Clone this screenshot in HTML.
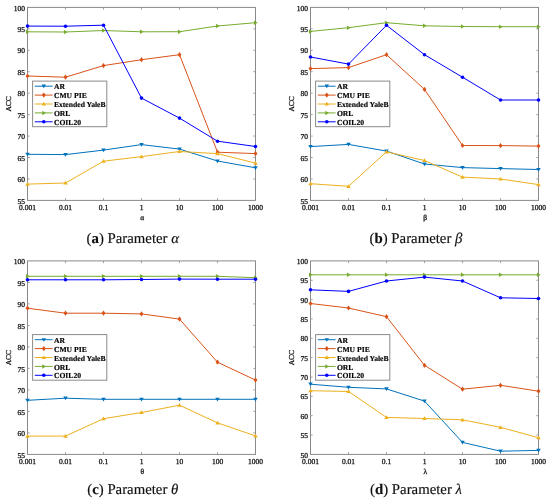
<!DOCTYPE html>
<html><head><meta charset="utf-8"><title>Parameter sensitivity</title>
<style>
html,body{margin:0;padding:0;background:#fff;}
svg{display:block;text-rendering:geometricPrecision;}
.tk{font-family:"Liberation Serif",serif;font-size:7.5px;fill:#1a1a1a;stroke:#1a1a1a;stroke-width:0.3px;}
.ax{font-style:italic;}
.lg{font-family:"Liberation Serif",serif;font-size:7.65px;font-weight:bold;fill:#000;stroke:#000;stroke-width:0.15px;}
.cap{font-family:"Liberation Serif","DejaVu Serif",serif;font-size:14.8px;fill:#111;stroke:#111;stroke-width:0.15px;}
</style></head>
<body>
<svg width="550" height="501" viewBox="0 0 550 501">
<rect width="550" height="501" fill="#fff"/>
<text x="24.90" y="203.50" text-anchor="end" class="tk">55</text>
<text x="24.90" y="182.06" text-anchor="end" class="tk">60</text>
<text x="24.90" y="160.61" text-anchor="end" class="tk">65</text>
<text x="24.90" y="139.17" text-anchor="end" class="tk">70</text>
<text x="24.90" y="117.72" text-anchor="end" class="tk">75</text>
<text x="24.90" y="96.28" text-anchor="end" class="tk">80</text>
<text x="24.90" y="74.83" text-anchor="end" class="tk">85</text>
<text x="24.90" y="53.39" text-anchor="end" class="tk">90</text>
<text x="24.90" y="31.94" text-anchor="end" class="tk">95</text>
<text x="24.90" y="10.50" text-anchor="end" class="tk">100</text>
<text x="27.50" y="210.30" text-anchor="middle" class="tk">0.001</text>
<text x="65.50" y="210.30" text-anchor="middle" class="tk">0.01</text>
<text x="103.50" y="210.30" text-anchor="middle" class="tk">0.1</text>
<text x="141.50" y="210.30" text-anchor="middle" class="tk">1</text>
<text x="179.50" y="210.30" text-anchor="middle" class="tk">10</text>
<text x="217.50" y="210.30" text-anchor="middle" class="tk">100</text>
<text x="255.50" y="210.30" text-anchor="middle" class="tk">1000</text>
<path d="M27.5,178.96h2.2M255.5,178.96h-2.2M27.5,157.51h2.2M255.5,157.51h-2.2M27.5,136.07h2.2M255.5,136.07h-2.2M27.5,114.62h2.2M255.5,114.62h-2.2M27.5,93.18h2.2M255.5,93.18h-2.2M27.5,71.73h2.2M255.5,71.73h-2.2M27.5,50.29h2.2M255.5,50.29h-2.2M27.5,28.84h2.2M255.5,28.84h-2.2M65.50,200.4v-2.2M65.50,7.4v2.2M103.50,200.4v-2.2M103.50,7.4v2.2M141.50,200.4v-2.2M141.50,7.4v2.2M179.50,200.4v-2.2M179.50,7.4v2.2M217.50,200.4v-2.2M217.50,7.4v2.2" stroke="#8a8a8a" stroke-width="0.8" fill="none"/>
<rect x="27.5" y="7.4" width="228.0" height="193.0" fill="none" stroke="#8a8a8a" stroke-width="1"/>
<polyline points="27.50,154.30 65.50,154.60 103.50,150.10 141.50,144.60 179.50,149.10 217.50,161.00 255.50,167.80" fill="none" stroke="#0072BD" stroke-width="1.0" stroke-linejoin="round"/>
<path d="M25.25,152.73H29.75L27.50,156.44Z" fill="#0072BD"/>
<path d="M63.25,153.03H67.75L65.50,156.74Z" fill="#0072BD"/>
<path d="M101.25,148.53H105.75L103.50,152.24Z" fill="#0072BD"/>
<path d="M139.25,143.03H143.75L141.50,146.74Z" fill="#0072BD"/>
<path d="M177.25,147.53H181.75L179.50,151.24Z" fill="#0072BD"/>
<path d="M215.25,159.43H219.75L217.50,163.14Z" fill="#0072BD"/>
<path d="M253.25,166.23H257.75L255.50,169.94Z" fill="#0072BD"/>
<polyline points="27.50,76.00 65.50,77.20 103.50,65.60 141.50,59.70 179.50,54.70 217.50,152.20 255.50,153.60" fill="none" stroke="#D95319" stroke-width="1.0" stroke-linejoin="round"/>
<path d="M27.50,73.41L29.41,76.00L27.50,78.59L25.59,76.00Z" fill="#D95319"/>
<path d="M65.50,74.61L67.41,77.20L65.50,79.79L63.59,77.20Z" fill="#D95319"/>
<path d="M103.50,63.01L105.41,65.60L103.50,68.19L101.59,65.60Z" fill="#D95319"/>
<path d="M141.50,57.11L143.41,59.70L141.50,62.29L139.59,59.70Z" fill="#D95319"/>
<path d="M179.50,52.11L181.41,54.70L179.50,57.29L177.59,54.70Z" fill="#D95319"/>
<path d="M217.50,149.61L219.41,152.20L217.50,154.79L215.59,152.20Z" fill="#D95319"/>
<path d="M255.50,151.01L257.41,153.60L255.50,156.19L253.59,153.60Z" fill="#D95319"/>
<polyline points="27.50,184.10 65.50,183.00 103.50,161.20 141.50,156.60 179.50,151.50 217.50,153.60 255.50,163.10" fill="none" stroke="#EDB120" stroke-width="1.0" stroke-linejoin="round"/>
<path d="M25.25,185.67H29.75L27.50,181.96Z" fill="#EDB120"/>
<path d="M63.25,184.57H67.75L65.50,180.86Z" fill="#EDB120"/>
<path d="M101.25,162.77H105.75L103.50,159.06Z" fill="#EDB120"/>
<path d="M139.25,158.17H143.75L141.50,154.46Z" fill="#EDB120"/>
<path d="M177.25,153.07H181.75L179.50,149.36Z" fill="#EDB120"/>
<path d="M215.25,155.17H219.75L217.50,151.46Z" fill="#EDB120"/>
<path d="M253.25,164.67H257.75L255.50,160.96Z" fill="#EDB120"/>
<polyline points="27.50,31.80 65.50,32.00 103.50,30.50 141.50,31.80 179.50,31.70 217.50,26.00 255.50,22.70" fill="none" stroke="#77AC30" stroke-width="1.0" stroke-linejoin="round"/>
<path d="M25.93,29.55V34.05L29.64,31.80Z" fill="#77AC30"/>
<path d="M63.92,29.75V34.25L67.64,32.00Z" fill="#77AC30"/>
<path d="M101.92,28.25V32.75L105.64,30.50Z" fill="#77AC30"/>
<path d="M139.93,29.55V34.05L143.64,31.80Z" fill="#77AC30"/>
<path d="M177.93,29.45V33.95L181.64,31.70Z" fill="#77AC30"/>
<path d="M215.93,23.75V28.25L219.64,26.00Z" fill="#77AC30"/>
<path d="M253.93,20.45V24.95L257.64,22.70Z" fill="#77AC30"/>
<polyline points="27.50,26.10 65.50,26.20 103.50,25.20 141.50,98.10 179.50,118.10 217.50,141.20 255.50,146.50" fill="none" stroke="#0000FF" stroke-width="1.0" stroke-linejoin="round"/>
<circle cx="27.50" cy="26.10" r="1.80" fill="#0000FF"/>
<circle cx="65.50" cy="26.20" r="1.80" fill="#0000FF"/>
<circle cx="103.50" cy="25.20" r="1.80" fill="#0000FF"/>
<circle cx="141.50" cy="98.10" r="1.80" fill="#0000FF"/>
<circle cx="179.50" cy="118.10" r="1.80" fill="#0000FF"/>
<circle cx="217.50" cy="141.20" r="1.80" fill="#0000FF"/>
<circle cx="255.50" cy="146.50" r="1.80" fill="#0000FF"/>
<rect x="32.6" y="81.1" width="74.2" height="45.6" fill="#fff" stroke="#8a8a8a" stroke-width="1"/>
<line x1="34.80" y1="86.20" x2="52.60" y2="86.20" stroke="#0072BD" stroke-width="1.0"/>
<path d="M41.55,84.62H46.05L43.80,88.34Z" fill="#0072BD"/>
<text x="53.90" y="89.30" class="lg">AR</text>
<line x1="34.80" y1="95.10" x2="52.60" y2="95.10" stroke="#D95319" stroke-width="1.0"/>
<path d="M43.80,92.51L45.71,95.10L43.80,97.69L41.89,95.10Z" fill="#D95319"/>
<text x="53.90" y="98.20" class="lg">CMU PIE</text>
<line x1="34.80" y1="104.00" x2="52.60" y2="104.00" stroke="#EDB120" stroke-width="1.0"/>
<path d="M41.55,105.57H46.05L43.80,101.86Z" fill="#EDB120"/>
<text x="53.90" y="107.10" class="lg">Extended YaleB</text>
<line x1="34.80" y1="112.90" x2="52.60" y2="112.90" stroke="#77AC30" stroke-width="1.0"/>
<path d="M42.22,110.65V115.15L45.94,112.90Z" fill="#77AC30"/>
<text x="53.90" y="116.00" class="lg">ORL</text>
<line x1="34.80" y1="121.80" x2="52.60" y2="121.80" stroke="#0000FF" stroke-width="1.0"/>
<circle cx="43.80" cy="121.80" r="1.80" fill="#0000FF"/>
<text x="53.90" y="124.90" class="lg">COIL20</text>
<text x="0" y="0" transform="translate(11.40,103.90) rotate(-90)" text-anchor="middle" class="tk">ACC</text>
<text x="142.20" y="219.60" text-anchor="middle" class="tk">α</text>
<text x="132.80" y="242.50" text-anchor="middle" class="cap">(<tspan font-weight="bold">a</tspan>) Parameter <tspan font-style="italic">α</tspan></text>
<text x="307.90" y="203.50" text-anchor="end" class="tk">55</text>
<text x="307.90" y="182.06" text-anchor="end" class="tk">60</text>
<text x="307.90" y="160.61" text-anchor="end" class="tk">65</text>
<text x="307.90" y="139.17" text-anchor="end" class="tk">70</text>
<text x="307.90" y="117.72" text-anchor="end" class="tk">75</text>
<text x="307.90" y="96.28" text-anchor="end" class="tk">80</text>
<text x="307.90" y="74.83" text-anchor="end" class="tk">85</text>
<text x="307.90" y="53.39" text-anchor="end" class="tk">90</text>
<text x="307.90" y="31.94" text-anchor="end" class="tk">95</text>
<text x="307.90" y="10.50" text-anchor="end" class="tk">100</text>
<text x="310.50" y="210.30" text-anchor="middle" class="tk">0.001</text>
<text x="348.50" y="210.30" text-anchor="middle" class="tk">0.01</text>
<text x="386.50" y="210.30" text-anchor="middle" class="tk">0.1</text>
<text x="424.50" y="210.30" text-anchor="middle" class="tk">1</text>
<text x="462.50" y="210.30" text-anchor="middle" class="tk">10</text>
<text x="500.50" y="210.30" text-anchor="middle" class="tk">100</text>
<text x="538.50" y="210.30" text-anchor="middle" class="tk">1000</text>
<path d="M310.5,178.96h2.2M538.5,178.96h-2.2M310.5,157.51h2.2M538.5,157.51h-2.2M310.5,136.07h2.2M538.5,136.07h-2.2M310.5,114.62h2.2M538.5,114.62h-2.2M310.5,93.18h2.2M538.5,93.18h-2.2M310.5,71.73h2.2M538.5,71.73h-2.2M310.5,50.29h2.2M538.5,50.29h-2.2M310.5,28.84h2.2M538.5,28.84h-2.2M348.50,200.4v-2.2M348.50,7.4v2.2M386.50,200.4v-2.2M386.50,7.4v2.2M424.50,200.4v-2.2M424.50,7.4v2.2M462.50,200.4v-2.2M462.50,7.4v2.2M500.50,200.4v-2.2M500.50,7.4v2.2" stroke="#8a8a8a" stroke-width="0.8" fill="none"/>
<rect x="310.5" y="7.4" width="228.0" height="193.0" fill="none" stroke="#8a8a8a" stroke-width="1"/>
<polyline points="310.50,146.60 348.50,144.40 386.50,151.10 424.50,164.00 462.50,167.60 500.50,168.60 538.50,169.50" fill="none" stroke="#0072BD" stroke-width="1.0" stroke-linejoin="round"/>
<path d="M308.25,145.03H312.75L310.50,148.74Z" fill="#0072BD"/>
<path d="M346.25,142.83H350.75L348.50,146.54Z" fill="#0072BD"/>
<path d="M384.25,149.53H388.75L386.50,153.24Z" fill="#0072BD"/>
<path d="M422.25,162.43H426.75L424.50,166.14Z" fill="#0072BD"/>
<path d="M460.25,166.03H464.75L462.50,169.74Z" fill="#0072BD"/>
<path d="M498.25,167.03H502.75L500.50,170.74Z" fill="#0072BD"/>
<path d="M536.25,167.93H540.75L538.50,171.64Z" fill="#0072BD"/>
<polyline points="310.50,68.60 348.50,67.60 386.50,54.70 424.50,89.40 462.50,145.50 500.50,145.60 538.50,146.10" fill="none" stroke="#D95319" stroke-width="1.0" stroke-linejoin="round"/>
<path d="M310.50,66.01L312.41,68.60L310.50,71.19L308.59,68.60Z" fill="#D95319"/>
<path d="M348.50,65.01L350.41,67.60L348.50,70.19L346.59,67.60Z" fill="#D95319"/>
<path d="M386.50,52.11L388.41,54.70L386.50,57.29L384.59,54.70Z" fill="#D95319"/>
<path d="M424.50,86.81L426.41,89.40L424.50,91.99L422.59,89.40Z" fill="#D95319"/>
<path d="M462.50,142.91L464.41,145.50L462.50,148.09L460.59,145.50Z" fill="#D95319"/>
<path d="M500.50,143.01L502.41,145.60L500.50,148.19L498.59,145.60Z" fill="#D95319"/>
<path d="M538.50,143.51L540.41,146.10L538.50,148.69L536.59,146.10Z" fill="#D95319"/>
<polyline points="310.50,183.70 348.50,186.30 386.50,151.80 424.50,160.50 462.50,177.10 500.50,179.00 538.50,184.60" fill="none" stroke="#EDB120" stroke-width="1.0" stroke-linejoin="round"/>
<path d="M308.25,185.27H312.75L310.50,181.56Z" fill="#EDB120"/>
<path d="M346.25,187.88H350.75L348.50,184.16Z" fill="#EDB120"/>
<path d="M384.25,153.38H388.75L386.50,149.66Z" fill="#EDB120"/>
<path d="M422.25,162.07H426.75L424.50,158.36Z" fill="#EDB120"/>
<path d="M460.25,178.67H464.75L462.50,174.96Z" fill="#EDB120"/>
<path d="M498.25,180.57H502.75L500.50,176.86Z" fill="#EDB120"/>
<path d="M536.25,186.17H540.75L538.50,182.46Z" fill="#EDB120"/>
<polyline points="310.50,31.40 348.50,27.70 386.50,22.70 424.50,25.80 462.50,26.50 500.50,26.70 538.50,26.70" fill="none" stroke="#77AC30" stroke-width="1.0" stroke-linejoin="round"/>
<path d="M308.93,29.15V33.65L312.64,31.40Z" fill="#77AC30"/>
<path d="M346.93,25.45V29.95L350.64,27.70Z" fill="#77AC30"/>
<path d="M384.93,20.45V24.95L388.64,22.70Z" fill="#77AC30"/>
<path d="M422.93,23.55V28.05L426.64,25.80Z" fill="#77AC30"/>
<path d="M460.93,24.25V28.75L464.64,26.50Z" fill="#77AC30"/>
<path d="M498.93,24.45V28.95L502.64,26.70Z" fill="#77AC30"/>
<path d="M536.92,24.45V28.95L540.64,26.70Z" fill="#77AC30"/>
<polyline points="310.50,57.00 348.50,64.10 386.50,25.30 424.50,54.70 462.50,77.20 500.50,100.00 538.50,100.00" fill="none" stroke="#0000FF" stroke-width="1.0" stroke-linejoin="round"/>
<circle cx="310.50" cy="57.00" r="1.80" fill="#0000FF"/>
<circle cx="348.50" cy="64.10" r="1.80" fill="#0000FF"/>
<circle cx="386.50" cy="25.30" r="1.80" fill="#0000FF"/>
<circle cx="424.50" cy="54.70" r="1.80" fill="#0000FF"/>
<circle cx="462.50" cy="77.20" r="1.80" fill="#0000FF"/>
<circle cx="500.50" cy="100.00" r="1.80" fill="#0000FF"/>
<circle cx="538.50" cy="100.00" r="1.80" fill="#0000FF"/>
<rect x="315.6" y="81.1" width="74.2" height="45.6" fill="#fff" stroke="#8a8a8a" stroke-width="1"/>
<line x1="317.80" y1="86.20" x2="335.60" y2="86.20" stroke="#0072BD" stroke-width="1.0"/>
<path d="M324.55,84.62H329.05L326.80,88.34Z" fill="#0072BD"/>
<text x="336.90" y="89.30" class="lg">AR</text>
<line x1="317.80" y1="95.10" x2="335.60" y2="95.10" stroke="#D95319" stroke-width="1.0"/>
<path d="M326.80,92.51L328.71,95.10L326.80,97.69L324.89,95.10Z" fill="#D95319"/>
<text x="336.90" y="98.20" class="lg">CMU PIE</text>
<line x1="317.80" y1="104.00" x2="335.60" y2="104.00" stroke="#EDB120" stroke-width="1.0"/>
<path d="M324.55,105.57H329.05L326.80,101.86Z" fill="#EDB120"/>
<text x="336.90" y="107.10" class="lg">Extended YaleB</text>
<line x1="317.80" y1="112.90" x2="335.60" y2="112.90" stroke="#77AC30" stroke-width="1.0"/>
<path d="M325.23,110.65V115.15L328.94,112.90Z" fill="#77AC30"/>
<text x="336.90" y="116.00" class="lg">ORL</text>
<line x1="317.80" y1="121.80" x2="335.60" y2="121.80" stroke="#0000FF" stroke-width="1.0"/>
<circle cx="326.80" cy="121.80" r="1.80" fill="#0000FF"/>
<text x="336.90" y="124.90" class="lg">COIL20</text>
<text x="0" y="0" transform="translate(294.40,103.90) rotate(-90)" text-anchor="middle" class="tk">ACC</text>
<text x="425.20" y="219.60" text-anchor="middle" class="tk">β</text>
<text x="416.00" y="242.50" text-anchor="middle" class="cap">(<tspan font-weight="bold">b</tspan>) Parameter <tspan font-style="italic">β</tspan></text>
<text x="24.90" y="457.50" text-anchor="end" class="tk">55</text>
<text x="24.90" y="436.00" text-anchor="end" class="tk">60</text>
<text x="24.90" y="414.50" text-anchor="end" class="tk">65</text>
<text x="24.90" y="393.00" text-anchor="end" class="tk">70</text>
<text x="24.90" y="371.50" text-anchor="end" class="tk">75</text>
<text x="24.90" y="350.00" text-anchor="end" class="tk">80</text>
<text x="24.90" y="328.50" text-anchor="end" class="tk">85</text>
<text x="24.90" y="307.00" text-anchor="end" class="tk">90</text>
<text x="24.90" y="285.50" text-anchor="end" class="tk">95</text>
<text x="24.90" y="264.00" text-anchor="end" class="tk">100</text>
<text x="27.50" y="464.30" text-anchor="middle" class="tk">0.001</text>
<text x="65.50" y="464.30" text-anchor="middle" class="tk">0.01</text>
<text x="103.50" y="464.30" text-anchor="middle" class="tk">0.1</text>
<text x="141.50" y="464.30" text-anchor="middle" class="tk">1</text>
<text x="179.50" y="464.30" text-anchor="middle" class="tk">10</text>
<text x="217.50" y="464.30" text-anchor="middle" class="tk">100</text>
<text x="255.50" y="464.30" text-anchor="middle" class="tk">1000</text>
<path d="M27.5,432.90h2.2M255.5,432.90h-2.2M27.5,411.40h2.2M255.5,411.40h-2.2M27.5,389.90h2.2M255.5,389.90h-2.2M27.5,368.40h2.2M255.5,368.40h-2.2M27.5,346.90h2.2M255.5,346.90h-2.2M27.5,325.40h2.2M255.5,325.40h-2.2M27.5,303.90h2.2M255.5,303.90h-2.2M27.5,282.40h2.2M255.5,282.40h-2.2M65.50,454.4v-2.2M65.50,260.9v2.2M103.50,454.4v-2.2M103.50,260.9v2.2M141.50,454.4v-2.2M141.50,260.9v2.2M179.50,454.4v-2.2M179.50,260.9v2.2M217.50,454.4v-2.2M217.50,260.9v2.2" stroke="#8a8a8a" stroke-width="0.8" fill="none"/>
<rect x="27.5" y="260.9" width="228.0" height="193.5" fill="none" stroke="#8a8a8a" stroke-width="1"/>
<polyline points="27.50,400.30 65.50,398.20 103.50,399.30 141.50,399.30 179.50,399.30 217.50,399.30 255.50,399.30" fill="none" stroke="#0072BD" stroke-width="1.0" stroke-linejoin="round"/>
<path d="M25.25,398.73H29.75L27.50,402.44Z" fill="#0072BD"/>
<path d="M63.25,396.62H67.75L65.50,400.34Z" fill="#0072BD"/>
<path d="M101.25,397.73H105.75L103.50,401.44Z" fill="#0072BD"/>
<path d="M139.25,397.73H143.75L141.50,401.44Z" fill="#0072BD"/>
<path d="M177.25,397.73H181.75L179.50,401.44Z" fill="#0072BD"/>
<path d="M215.25,397.73H219.75L217.50,401.44Z" fill="#0072BD"/>
<path d="M253.25,397.73H257.75L255.50,401.44Z" fill="#0072BD"/>
<polyline points="27.50,308.20 65.50,313.20 103.50,313.20 141.50,313.90 179.50,319.10 217.50,362.20 255.50,380.10" fill="none" stroke="#D95319" stroke-width="1.0" stroke-linejoin="round"/>
<path d="M27.50,305.61L29.41,308.20L27.50,310.79L25.59,308.20Z" fill="#D95319"/>
<path d="M65.50,310.61L67.41,313.20L65.50,315.79L63.59,313.20Z" fill="#D95319"/>
<path d="M103.50,310.61L105.41,313.20L103.50,315.79L101.59,313.20Z" fill="#D95319"/>
<path d="M141.50,311.31L143.41,313.90L141.50,316.49L139.59,313.90Z" fill="#D95319"/>
<path d="M179.50,316.51L181.41,319.10L179.50,321.69L177.59,319.10Z" fill="#D95319"/>
<path d="M217.50,359.61L219.41,362.20L217.50,364.79L215.59,362.20Z" fill="#D95319"/>
<path d="M255.50,377.51L257.41,380.10L255.50,382.69L253.59,380.10Z" fill="#D95319"/>
<polyline points="27.50,436.10 65.50,436.10 103.50,418.70 141.50,412.50 179.50,405.20 217.50,422.90 255.50,435.90" fill="none" stroke="#EDB120" stroke-width="1.0" stroke-linejoin="round"/>
<path d="M25.25,437.68H29.75L27.50,433.96Z" fill="#EDB120"/>
<path d="M63.25,437.68H67.75L65.50,433.96Z" fill="#EDB120"/>
<path d="M101.25,420.27H105.75L103.50,416.56Z" fill="#EDB120"/>
<path d="M139.25,414.07H143.75L141.50,410.36Z" fill="#EDB120"/>
<path d="M177.25,406.77H181.75L179.50,403.06Z" fill="#EDB120"/>
<path d="M215.25,424.47H219.75L217.50,420.76Z" fill="#EDB120"/>
<path d="M253.25,437.47H257.75L255.50,433.76Z" fill="#EDB120"/>
<polyline points="27.50,276.30 65.50,276.30 103.50,276.30 141.50,276.30 179.50,276.30 217.50,276.30 255.50,277.70" fill="none" stroke="#77AC30" stroke-width="1.0" stroke-linejoin="round"/>
<path d="M25.93,274.05V278.55L29.64,276.30Z" fill="#77AC30"/>
<path d="M63.92,274.05V278.55L67.64,276.30Z" fill="#77AC30"/>
<path d="M101.92,274.05V278.55L105.64,276.30Z" fill="#77AC30"/>
<path d="M139.93,274.05V278.55L143.64,276.30Z" fill="#77AC30"/>
<path d="M177.93,274.05V278.55L181.64,276.30Z" fill="#77AC30"/>
<path d="M215.93,274.05V278.55L219.64,276.30Z" fill="#77AC30"/>
<path d="M253.93,275.45V279.95L257.64,277.70Z" fill="#77AC30"/>
<polyline points="27.50,279.80 65.50,279.80 103.50,279.80 141.50,279.50 179.50,279.10 217.50,279.20 255.50,279.20" fill="none" stroke="#0000FF" stroke-width="1.0" stroke-linejoin="round"/>
<circle cx="27.50" cy="279.80" r="1.80" fill="#0000FF"/>
<circle cx="65.50" cy="279.80" r="1.80" fill="#0000FF"/>
<circle cx="103.50" cy="279.80" r="1.80" fill="#0000FF"/>
<circle cx="141.50" cy="279.50" r="1.80" fill="#0000FF"/>
<circle cx="179.50" cy="279.10" r="1.80" fill="#0000FF"/>
<circle cx="217.50" cy="279.20" r="1.80" fill="#0000FF"/>
<circle cx="255.50" cy="279.20" r="1.80" fill="#0000FF"/>
<rect x="32.6" y="334.6" width="74.2" height="45.6" fill="#fff" stroke="#8a8a8a" stroke-width="1"/>
<line x1="34.80" y1="339.70" x2="52.60" y2="339.70" stroke="#0072BD" stroke-width="1.0"/>
<path d="M41.55,338.13H46.05L43.80,341.84Z" fill="#0072BD"/>
<text x="53.90" y="342.80" class="lg">AR</text>
<line x1="34.80" y1="348.60" x2="52.60" y2="348.60" stroke="#D95319" stroke-width="1.0"/>
<path d="M43.80,346.01L45.71,348.60L43.80,351.19L41.89,348.60Z" fill="#D95319"/>
<text x="53.90" y="351.70" class="lg">CMU PIE</text>
<line x1="34.80" y1="357.50" x2="52.60" y2="357.50" stroke="#EDB120" stroke-width="1.0"/>
<path d="M41.55,359.08H46.05L43.80,355.36Z" fill="#EDB120"/>
<text x="53.90" y="360.60" class="lg">Extended YaleB</text>
<line x1="34.80" y1="366.40" x2="52.60" y2="366.40" stroke="#77AC30" stroke-width="1.0"/>
<path d="M42.22,364.15V368.65L45.94,366.40Z" fill="#77AC30"/>
<text x="53.90" y="369.50" class="lg">ORL</text>
<line x1="34.80" y1="375.30" x2="52.60" y2="375.30" stroke="#0000FF" stroke-width="1.0"/>
<circle cx="43.80" cy="375.30" r="1.80" fill="#0000FF"/>
<text x="53.90" y="378.40" class="lg">COIL20</text>
<text x="0" y="0" transform="translate(11.40,357.65) rotate(-90)" text-anchor="middle" class="tk">ACC</text>
<text x="142.20" y="473.60" text-anchor="middle" class="tk">θ</text>
<text x="132.80" y="493.60" text-anchor="middle" class="cap">(<tspan font-weight="bold">c</tspan>) Parameter <tspan font-style="italic">θ</tspan></text>
<text x="307.90" y="457.50" text-anchor="end" class="tk">50</text>
<text x="307.90" y="438.15" text-anchor="end" class="tk">55</text>
<text x="307.90" y="418.80" text-anchor="end" class="tk">60</text>
<text x="307.90" y="399.45" text-anchor="end" class="tk">65</text>
<text x="307.90" y="380.10" text-anchor="end" class="tk">70</text>
<text x="307.90" y="360.75" text-anchor="end" class="tk">75</text>
<text x="307.90" y="341.40" text-anchor="end" class="tk">80</text>
<text x="307.90" y="322.05" text-anchor="end" class="tk">85</text>
<text x="307.90" y="302.70" text-anchor="end" class="tk">90</text>
<text x="307.90" y="283.35" text-anchor="end" class="tk">95</text>
<text x="307.90" y="264.00" text-anchor="end" class="tk">100</text>
<text x="310.50" y="464.30" text-anchor="middle" class="tk">0.001</text>
<text x="348.50" y="464.30" text-anchor="middle" class="tk">0.01</text>
<text x="386.50" y="464.30" text-anchor="middle" class="tk">0.1</text>
<text x="424.50" y="464.30" text-anchor="middle" class="tk">1</text>
<text x="462.50" y="464.30" text-anchor="middle" class="tk">10</text>
<text x="500.50" y="464.30" text-anchor="middle" class="tk">100</text>
<text x="538.50" y="464.30" text-anchor="middle" class="tk">1000</text>
<path d="M310.5,435.05h2.2M538.5,435.05h-2.2M310.5,415.70h2.2M538.5,415.70h-2.2M310.5,396.35h2.2M538.5,396.35h-2.2M310.5,377.00h2.2M538.5,377.00h-2.2M310.5,357.65h2.2M538.5,357.65h-2.2M310.5,338.30h2.2M538.5,338.30h-2.2M310.5,318.95h2.2M538.5,318.95h-2.2M310.5,299.60h2.2M538.5,299.60h-2.2M310.5,280.25h2.2M538.5,280.25h-2.2M348.50,454.4v-2.2M348.50,260.9v2.2M386.50,454.4v-2.2M386.50,260.9v2.2M424.50,454.4v-2.2M424.50,260.9v2.2M462.50,454.4v-2.2M462.50,260.9v2.2M500.50,454.4v-2.2M500.50,260.9v2.2" stroke="#8a8a8a" stroke-width="0.8" fill="none"/>
<rect x="310.5" y="260.9" width="228.0" height="193.5" fill="none" stroke="#8a8a8a" stroke-width="1"/>
<polyline points="310.50,384.20 348.50,387.30 386.50,388.90 424.50,401.10 462.50,442.40 500.50,451.20 538.50,450.40" fill="none" stroke="#0072BD" stroke-width="1.0" stroke-linejoin="round"/>
<path d="M308.25,382.62H312.75L310.50,386.34Z" fill="#0072BD"/>
<path d="M346.25,385.73H350.75L348.50,389.44Z" fill="#0072BD"/>
<path d="M384.25,387.32H388.75L386.50,391.04Z" fill="#0072BD"/>
<path d="M422.25,399.53H426.75L424.50,403.24Z" fill="#0072BD"/>
<path d="M460.25,440.82H464.75L462.50,444.54Z" fill="#0072BD"/>
<path d="M498.25,449.62H502.75L500.50,453.34Z" fill="#0072BD"/>
<path d="M536.25,448.82H540.75L538.50,452.54Z" fill="#0072BD"/>
<polyline points="310.50,303.50 348.50,308.00 386.50,316.70 424.50,365.30 462.50,389.20 500.50,385.30 538.50,391.20" fill="none" stroke="#D95319" stroke-width="1.0" stroke-linejoin="round"/>
<path d="M310.50,300.91L312.41,303.50L310.50,306.09L308.59,303.50Z" fill="#D95319"/>
<path d="M348.50,305.41L350.41,308.00L348.50,310.59L346.59,308.00Z" fill="#D95319"/>
<path d="M386.50,314.11L388.41,316.70L386.50,319.29L384.59,316.70Z" fill="#D95319"/>
<path d="M424.50,362.71L426.41,365.30L424.50,367.89L422.59,365.30Z" fill="#D95319"/>
<path d="M462.50,386.61L464.41,389.20L462.50,391.79L460.59,389.20Z" fill="#D95319"/>
<path d="M500.50,382.71L502.41,385.30L500.50,387.89L498.59,385.30Z" fill="#D95319"/>
<path d="M538.50,388.61L540.41,391.20L538.50,393.79L536.59,391.20Z" fill="#D95319"/>
<polyline points="310.50,390.70 348.50,391.50 386.50,417.40 424.50,418.50 462.50,419.80 500.50,427.30 538.50,437.70" fill="none" stroke="#EDB120" stroke-width="1.0" stroke-linejoin="round"/>
<path d="M308.25,392.27H312.75L310.50,388.56Z" fill="#EDB120"/>
<path d="M346.25,393.07H350.75L348.50,389.36Z" fill="#EDB120"/>
<path d="M384.25,418.97H388.75L386.50,415.26Z" fill="#EDB120"/>
<path d="M422.25,420.07H426.75L424.50,416.36Z" fill="#EDB120"/>
<path d="M460.25,421.38H464.75L462.50,417.66Z" fill="#EDB120"/>
<path d="M498.25,428.88H502.75L500.50,425.16Z" fill="#EDB120"/>
<path d="M536.25,439.27H540.75L538.50,435.56Z" fill="#EDB120"/>
<polyline points="310.50,274.80 348.50,274.80 386.50,274.80 424.50,274.80 462.50,274.80 500.50,274.80 538.50,274.80" fill="none" stroke="#77AC30" stroke-width="1.0" stroke-linejoin="round"/>
<path d="M308.93,272.55V277.05L312.64,274.80Z" fill="#77AC30"/>
<path d="M346.93,272.55V277.05L350.64,274.80Z" fill="#77AC30"/>
<path d="M384.93,272.55V277.05L388.64,274.80Z" fill="#77AC30"/>
<path d="M422.93,272.55V277.05L426.64,274.80Z" fill="#77AC30"/>
<path d="M460.93,272.55V277.05L464.64,274.80Z" fill="#77AC30"/>
<path d="M498.93,272.55V277.05L502.64,274.80Z" fill="#77AC30"/>
<path d="M536.92,272.55V277.05L540.64,274.80Z" fill="#77AC30"/>
<polyline points="310.50,289.80 348.50,291.40 386.50,281.00 424.50,277.10 462.50,281.00 500.50,297.80 538.50,298.50" fill="none" stroke="#0000FF" stroke-width="1.0" stroke-linejoin="round"/>
<circle cx="310.50" cy="289.80" r="1.80" fill="#0000FF"/>
<circle cx="348.50" cy="291.40" r="1.80" fill="#0000FF"/>
<circle cx="386.50" cy="281.00" r="1.80" fill="#0000FF"/>
<circle cx="424.50" cy="277.10" r="1.80" fill="#0000FF"/>
<circle cx="462.50" cy="281.00" r="1.80" fill="#0000FF"/>
<circle cx="500.50" cy="297.80" r="1.80" fill="#0000FF"/>
<circle cx="538.50" cy="298.50" r="1.80" fill="#0000FF"/>
<rect x="315.6" y="334.6" width="74.2" height="45.6" fill="#fff" stroke="#8a8a8a" stroke-width="1"/>
<line x1="317.80" y1="339.70" x2="335.60" y2="339.70" stroke="#0072BD" stroke-width="1.0"/>
<path d="M324.55,338.13H329.05L326.80,341.84Z" fill="#0072BD"/>
<text x="336.90" y="342.80" class="lg">AR</text>
<line x1="317.80" y1="348.60" x2="335.60" y2="348.60" stroke="#D95319" stroke-width="1.0"/>
<path d="M326.80,346.01L328.71,348.60L326.80,351.19L324.89,348.60Z" fill="#D95319"/>
<text x="336.90" y="351.70" class="lg">CMU PIE</text>
<line x1="317.80" y1="357.50" x2="335.60" y2="357.50" stroke="#EDB120" stroke-width="1.0"/>
<path d="M324.55,359.08H329.05L326.80,355.36Z" fill="#EDB120"/>
<text x="336.90" y="360.60" class="lg">Extended YaleB</text>
<line x1="317.80" y1="366.40" x2="335.60" y2="366.40" stroke="#77AC30" stroke-width="1.0"/>
<path d="M325.23,364.15V368.65L328.94,366.40Z" fill="#77AC30"/>
<text x="336.90" y="369.50" class="lg">ORL</text>
<line x1="317.80" y1="375.30" x2="335.60" y2="375.30" stroke="#0000FF" stroke-width="1.0"/>
<circle cx="326.80" cy="375.30" r="1.80" fill="#0000FF"/>
<text x="336.90" y="378.40" class="lg">COIL20</text>
<text x="0" y="0" transform="translate(294.40,357.65) rotate(-90)" text-anchor="middle" class="tk">ACC</text>
<text x="425.20" y="473.60" text-anchor="middle" class="tk">λ</text>
<text x="416.00" y="493.60" text-anchor="middle" class="cap">(<tspan font-weight="bold">d</tspan>) Parameter <tspan font-style="italic">λ</tspan></text>
</svg>
</body></html>
